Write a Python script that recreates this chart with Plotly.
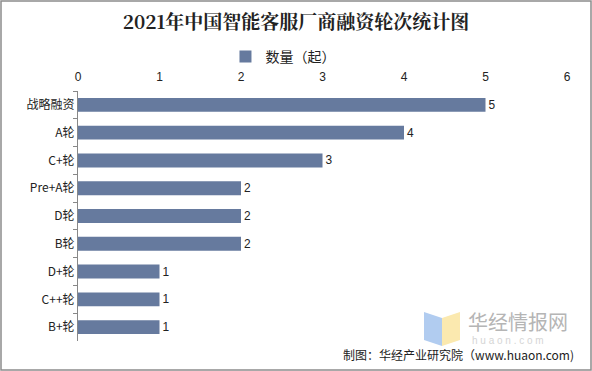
import plotly.graph_objects as go

categories = ["战略融资", "A轮", "C+轮", "Pre+A轮", "D轮", "B轮", "D+轮", "C++轮", "B+轮"]
values = [5, 4, 3, 2, 2, 2, 1, 1, 1]
series_name = "数量（起）"
title = "2021年中国智能客服厂商融资轮次统计图"
source = "制图：华经产业研究院（www.huaon.com)"

W, H = 592, 371
L, R, T, B = 78, 25, 91, 30
pw, ph = W - L - R, H - T - B

def px(x):
    return (x - L) / pw
def py(y):
    return (H - B - y) / ph

fig = go.Figure()
fig.add_trace(go.Bar(
    y=categories, x=values, orientation="h", name=series_name,
    marker=dict(color="#667A9E", line=dict(width=0)),
    width=0.5,
    text=[str(v) for v in values], textposition="outside",
    textfont=dict(size=12, color="#222", family="Liberation Sans, Arial"),
    cliponaxis=False,
))

fig.update_layout(
    width=W, height=H,
    margin=dict(l=L, r=R, t=T, b=B, autoexpand=False),
    paper_bgcolor="white", plot_bgcolor="white",
    showlegend=True,
    legend=dict(orientation="h", x=0.478, xanchor="center", xref="container",
                y=1 - 57/371, yanchor="middle", yref="container",
                font=dict(size=14, color="#222", family="Noto Sans CJK SC"),
                itemwidth=30, bgcolor="rgba(0,0,0,0)", tracegroupgap=0),
    title=dict(text="<b>" + title + "</b>", x=0.5, xanchor="center", y=1 - 22/371, yanchor="middle",
               font=dict(size=19, color="#222", family="Noto Serif CJK SC, Liberation Serif, serif")),
    xaxis=dict(range=[0, 6], side="top", dtick=1, showgrid=False, zeroline=False, automargin=False,
               showline=False, ticks="", ticklabelstandoff=7,
               tickfont=dict(size=12, color="#222", family="Liberation Sans, Arial"),
               fixedrange=True),
    yaxis=dict(autorange="reversed", showgrid=False, zeroline=False, showline=True, automargin=False,
               linecolor="#888", linewidth=1, ticks="outside", ticklen=4, tickcolor="#888",
               tickson="boundaries",
               tickfont=dict(size=12, color="#222", family="Noto Sans CJK SC"), fixedrange=True),
    bargap=0.5,
)

# outer border
fig.add_shape(type="rect", xref="paper", yref="paper", x0=px(1), x1=px(W - 1),
              y0=py(H - 1), y1=py(1), line=dict(color="#8c8c8c", width=1.5), fillcolor="rgba(0,0,0,0)",
              layer="below")

# watermark logo
fig.add_shape(type="path", xref="paper", yref="paper",
              path=f"M {px(424)},{py(312)} L {px(442)},{py(318)} L {px(442)},{py(346)} L {px(424)},{py(340)} Z",
              fillcolor="#A8C6EE", line=dict(width=0), layer="above", opacity=0.9)
fig.add_shape(type="path", xref="paper", yref="paper",
              path=f"M {px(442)},{py(318)} L {px(460)},{py(312)} L {px(460)},{py(340)} L {px(442)},{py(346)} Z",
              fillcolor="#FBE7A6", line=dict(width=0), layer="above", opacity=0.9)
fig.add_annotation(xref="paper", yref="paper", x=px(466), y=py(321), xanchor="left", yanchor="middle",
                   text="华经情报网", showarrow=False,
                   font=dict(size=20, color="#b5b5b5", family="Noto Sans CJK SC"))
fig.add_annotation(xref="paper", yref="paper", x=px(470), y=py(340), xanchor="left", yanchor="middle",
                   text="h u a o n . c o m", showarrow=False,
                   font=dict(size=10, color="#d5d5d5", family="Liberation Sans, Arial"))
fig.add_annotation(xref="paper", yref="paper", x=px(576), y=py(354), xanchor="right", yanchor="middle",
                   text=source, showarrow=False,
                   font=dict(size=12, color="#222", family="Noto Sans CJK SC"))

fig.write_html("out.html", config={"displayModeBar": False},
               post_script="document.body.style.margin='0';document.body.style.overflow='hidden';")
